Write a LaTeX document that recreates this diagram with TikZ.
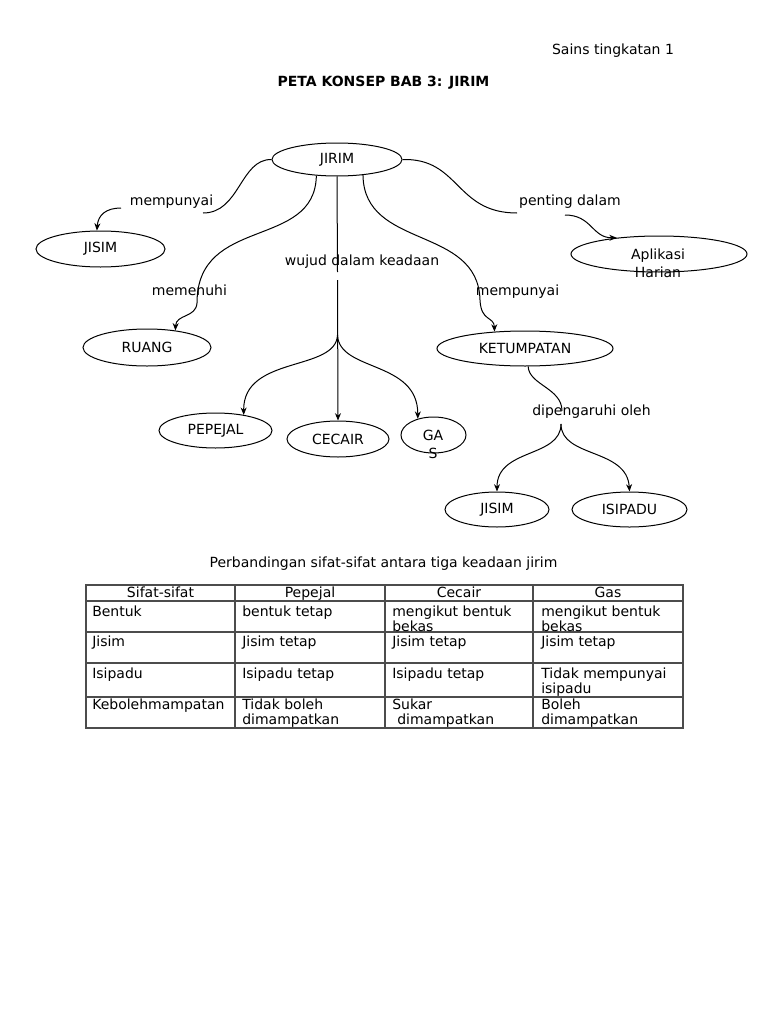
\documentclass[tikz,border=0pt]{standalone}
\usepackage{fontspec}
\setmainfont{DejaVu Sans}
\usetikzlibrary{shapes.geometric,arrows.meta}
\begin{document}
\begin{tikzpicture}[x=0.75pt,y=-0.75pt,
  font=\fontsize{10.5pt}{11.25pt}\selectfont,
  ell/.style={draw, ellipse, inner sep=0pt, line width=0.75pt},
  lbl/.style={inner sep=0pt, text height=0.75em, text depth=0.25em},
  con/.style={line width=0.75pt},
  arr/.style={line width=0.75pt, -{Stealth[length=5.5pt,width=4.5pt]}},
  tab/.style={line width=0.8pt, draw=black!70},
  cell/.style={inner sep=0pt, anchor=north west, align=left},
  head/.style={inner sep=0pt, anchor=base}]
\fill[white] (0,0) rectangle (768,1024);
\useasboundingbox (0,0) rectangle (768,1024);

% headings
\node[lbl] (sains) at (613,51) {Sains tingkatan 1};
\node[lbl, font=\fontsize{10.5pt}{11.25pt}\selectfont\bfseries] (title) at (383.5,83) {PETA KONSEP BAB 3: JIRIM};

% ellipses
\node[ell, minimum width=97.5pt, minimum height=24.75pt] (jirim) at (337,159.5) {JIRIM};
\node[ell, minimum width=96.75pt, minimum height=27pt] (jisimA) at (100.5,249) {JISIM};
\node[ell, minimum width=132pt, minimum height=27pt] (apl) at (659,254) {};
\node[inner sep=0pt, align=center, font=\fontsize{10.5pt}{13.5pt}\selectfont] (aplT) at (658,263) {Aplikasi\\Harian};
\node[ell, minimum width=96pt, minimum height=27.75pt] (ruang) at (147,347.5) {RUANG};
\node[ell, minimum width=132pt, minimum height=26.25pt] (ketum) at (525,348.5) {KETUMPATAN};
\node[ell, minimum width=84.75pt, minimum height=26.25pt] (pepejal) at (215.5,430.5) {PEPEJAL};
\node[ell, minimum width=76.5pt, minimum height=27pt] (cecair) at (338,439) {CECAIR};
\node[ell, minimum width=48.75pt, minimum height=27pt] (gas) at (433.5,435) {};
\node[inner sep=0pt, align=center, font=\fontsize{10.5pt}{13.5pt}\selectfont] (gasT) at (433,444) {GA\\S};
\node[ell, minimum width=78pt, minimum height=26.25pt] (jisimB) at (497,509.5) {JISIM};
\node[ell, minimum width=86.25pt, minimum height=26.25pt] (isipadu) at (629.5,509.5) {ISIPADU};

% labels
\node[lbl] (l1) at (171.5,202) {mempunyai};
\node[lbl] (l2) at (570,202) {penting dalam};
\node[lbl] (l3) at (362,262) {wujud dalam keadaan};
\node[lbl] (l4) at (189.5,292) {memenuhi};
\node[lbl] (l5) at (517.5,292) {mempunyai};
\node[lbl] (l6) at (591.5,412) {dipengaruhi oleh};

% free ends
\coordinate (m1) at (203,213);
\coordinate (m2) at (121,208);
\coordinate (p1) at (517,213);
\coordinate (p2) at (565,215);
\coordinate (v1) at (337.5,272);
\coordinate (v2) at (337.5,280);
\coordinate (vb) at (337.5,335);
\coordinate (d1) at (562,411);
\coordinate (d2) at (561,424);

% connectors
\draw[con] (jirim.west) .. controls (240,159) and (240,213) .. (m1);
\draw[arr] (m2) .. controls (106,208) and (98,215) .. (jisimA.101);

\draw[arr] (jirim.218) .. controls (315,250) and (197,215) .. (197,303)
  .. controls (196,318) and (176,314) .. (ruang.31);

\draw[con] (jirim.south) -- (v1);
\draw[arr] (v2) -- (cecair.north);
\draw[arr] (vb) .. controls (336,372) and (243,355) .. (pepejal.29);
\draw[arr] (vb) .. controls (339,372) and (418,360) .. (gas.134);

\draw[arr] (jirim.-31) .. controls (364,250) and (478,225) .. (480,300)
  .. controls (481,322) and (494,316) .. (ketum.151);

\draw[con] (jirim.east) .. controls (460,158) and (455,213) .. (p1);
\draw[arr] (p2) .. controls (592,215) and (592,238) .. (apl.159);

\draw[con] (ketum.-80) .. controls (529,385) and (562,388) .. (d1);
\draw[arr] (d2) .. controls (561,458) and (497,448) .. (jisimB.north);
\draw[arr] (d2) .. controls (561,458) and (627,448) .. (isipadu.north);

% table
\node[lbl] (cap) at (383.5,564) {Perbandingan sifat-sifat antara tiga keadaan jirim};
\draw[tab] (86,585) rectangle (683,728);
\foreach \yy in {601,632,663,697} \draw[tab] (86,\yy) -- (683,\yy);
\foreach \xx in {235,385,533} \draw[tab] (\xx,585) -- (\xx,728);

\node[head] (h1) at (160.5,597.5) {Sifat-sifat};
\node[head] (h2) at (310,597.5) {Pepejal};
\node[head] (h3) at (459,597.5) {Cecair};
\node[head] (h4) at (608,597.5) {Gas};

\node[cell] (a1) at (92,606) {Bentuk};
\node[cell] (a2) at (242,606) {bentuk tetap};
\node[cell] (a3) at (392,606) {mengikut bentuk\\bekas};
\node[cell] (a4) at (541,606) {mengikut bentuk\\bekas};

\node[cell] (b1) at (92,636) {Jisim};
\node[cell] (b2) at (242,636) {Jisim tetap};
\node[cell] (b3) at (392,636) {Jisim tetap};
\node[cell] (b4) at (541,636) {Jisim tetap};

\node[cell] (c1) at (92,668) {Isipadu};
\node[cell] (c2) at (242,668) {Isipadu tetap};
\node[cell] (c3) at (392,668) {Isipadu tetap};
\node[cell] (c4) at (541,668) {Tidak mempunyai\\isipadu};

\node[cell] (e1) at (92,699) {Kebolehmampatan};
\node[cell] (e2) at (242,699) {Tidak boleh\\dimampatkan};
\node[cell] (e3) at (392,699) {Sukar\\\hspace*{3.75pt}dimampatkan};
\node[cell] (e4) at (541,699) {Boleh\\dimampatkan};
\end{tikzpicture}
\end{document}
